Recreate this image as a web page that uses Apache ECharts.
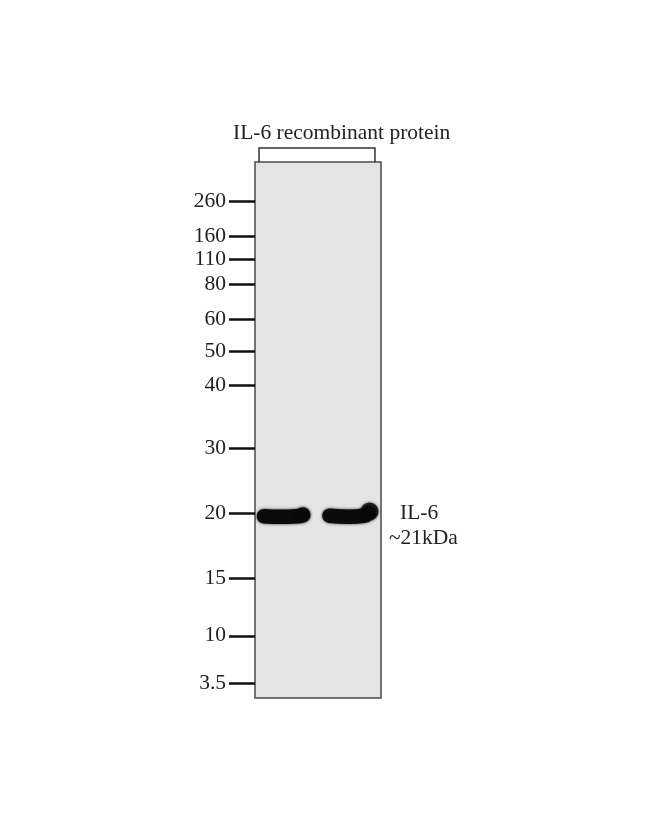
<!DOCTYPE html>
<html>
<head>
<meta charset="utf-8">
<script src="https://cdn.jsdelivr.net/npm/echarts@6/dist/echarts.min.js"></script>
<style>
  html, body { margin: 0; padding: 0; background: #fff; }
  #chart { width: 650px; height: 818px; }
</style>
</head>
<body>
<div id="chart"></div>
<script>
// marker ladder (kDa) and how far each ran down the gel (0 = well, 1 = bottom)
const markerLabels = ["260", "160", "110", "80", "60", "50", "40", "30", "20", "15", "10", "3.5"];
const markerMigration = [0.073, 0.138, 0.181, 0.229, 0.293, 0.354, 0.416, 0.534, 0.655, 0.776, 0.884, 0.972];

// band traces across each lane: [position across gel, migration]
const lane1Band = [[0.071, 0.661], [0.20, 0.662], [0.33, 0.661], [0.378, 0.659]];
const lane2Band = [[0.591, 0.660], [0.75, 0.662], [0.86, 0.660], [0.905, 0.655]];
const bandEnds = [[0.381, 0.658, 15], [0.909, 0.652, 18]];

// bracket over the lanes and band annotation
const bracketSpan = [0.032, 0.952];
const bracketTop = -0.026;
const bandNotes = [
  { x: 1.151, y: 0.655, text: "IL-6" },
  { x: 1.063, y: 0.703, text: "~21kDa" }
];

const serif = "Liberation Serif";
const fontSize = 21.5;
const chart = echarts.init(document.getElementById("chart"));

const bandLine = data => ({
  type: "line",
  data: data,
  smooth: true,
  showSymbol: false,
  silent: true,
  lineStyle: {
    width: 14.5,
    color: "#0a0a0a",
    cap: "round",
    shadowBlur: 3,
    shadowColor: "rgba(0,0,0,0.8)"
  },
  z: 3
});

chart.setOption({
  backgroundColor: "#fff",
  animation: false,
  title: {
    text: "IL-6 recombinant protein",
    left: 228,
    top: 117,
    textStyle: { fontFamily: serif, fontSize: fontSize, fontWeight: "normal", color: "#222" }
  },
  grid: {
    left: 255,
    right: 269,
    top: 162,
    bottom: 120,
    show: true,
    backgroundColor: "#e4e4e4",
    borderColor: "#4a4a4a",
    borderWidth: 1.5,
    containLabel: false,
    outerBoundsMode: "none"
  },
  xAxis: {
    type: "value",
    min: 0,
    max: 1,
    show: false
  },
  yAxis: {
    type: "value",
    min: 0,
    max: 1,
    inverse: true,
    splitLine: { show: false },
    axisLine: { show: false },
    axisTick: {
      show: true,
      inside: false,
      length: 26,
      customValues: markerMigration,
      lineStyle: { color: "#111", width: 2.5 }
    },
    axisLabel: {
      customValues: markerMigration,
      margin: 29,
      fontFamily: serif,
      fontSize: fontSize,
      color: "#222",
      formatter: v => {
        const i = markerMigration.indexOf(v);
        return i >= 0 ? markerLabels[i] : "";
      }
    }
  },
  series: [
    bandLine(lane1Band),
    bandLine(lane2Band),
    {
      type: "scatter",
      data: bandEnds,
      symbol: "circle",
      symbolSize: d => d[2],
      silent: true,
      itemStyle: { color: "#0a0a0a", shadowBlur: 3, shadowColor: "rgba(0,0,0,0.8)" },
      z: 4
    },
    {
      type: "custom",
      data: [[0, 0]],
      silent: true,
      clip: false,
      renderItem: (params, api) => {
        const a = api.coord([bracketSpan[0], 0]);
        const b = api.coord([bracketSpan[0], bracketTop]);
        const c = api.coord([bracketSpan[1], bracketTop]);
        const d = api.coord([bracketSpan[1], 0]);
        return {
          type: "polyline",
          shape: { points: [a, b, c, d] },
          style: { stroke: "#333", lineWidth: 1.5, fill: null }
        };
      }
    },
    {
      type: "custom",
      data: bandNotes.map(n => [n.x, n.y]),
      silent: true,
      clip: false,
      renderItem: (params, api) => {
        const p = api.coord([api.value(0), api.value(1)]);
        return {
          type: "text",
          x: p[0],
          y: p[1],
          style: {
            text: bandNotes[params.dataIndex].text,
            fontFamily: serif,
            fontSize: fontSize,
            fill: "#222",
            align: "left",
            verticalAlign: "middle"
          }
        };
      }
    }
  ]
});
</script>
</body>
</html>
